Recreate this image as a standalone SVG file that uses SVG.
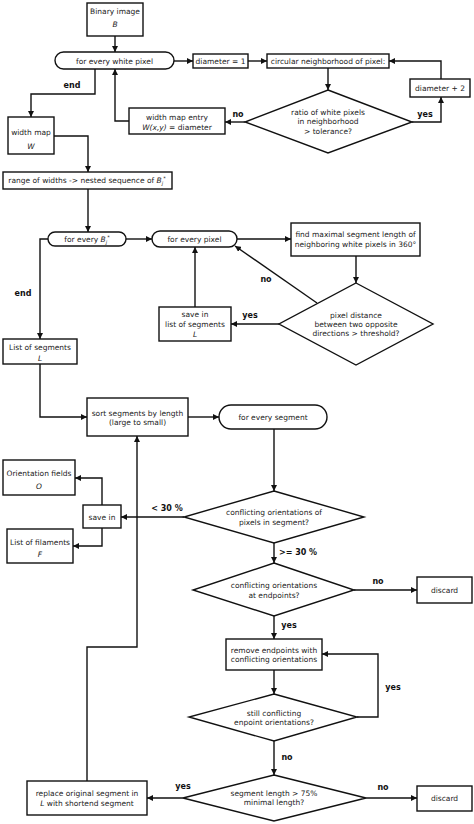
<svg xmlns="http://www.w3.org/2000/svg" width="474" height="824" viewBox="0 0 474 824">
<defs>
<marker id="ah" markerUnits="userSpaceOnUse" markerWidth="6" markerHeight="6" refX="6" refY="3" orient="auto">
<path d="M0,0 L6,3 L0,6 z" fill="#111"/>
</marker>
<style>
.n{fill:#fff;stroke:#111;stroke-width:1.4}
.t{font-family:"DejaVu Sans",sans-serif;font-size:7.5px;fill:#222;text-anchor:middle}
.i{font-style:italic}
.l{font-family:"DejaVu Sans",sans-serif;font-size:8px;font-weight:bold;fill:#111;text-anchor:middle}
.c{fill:none;stroke:#111;stroke-width:1.4;marker-end:url(#ah)}
.c0{fill:none;stroke:#111;stroke-width:1.4}
</style>
</defs>
<rect width="474" height="824" fill="#fff"/>
<g id="connectors">
<polyline class="c" points="115,36 115,52"/>
<polyline class="c" points="174,61 193,61"/>
<polyline class="c" points="248,61 267,61"/>
<polyline class="c" points="328,68 328,90"/>
<polyline class="c" points="412,122 441,122 441,97"/>
<polyline class="c" points="441,79 441,61 389,61"/>
<polyline class="c" points="245,122 225,122"/>
<polyline class="c" points="129,121 115,121 115,69"/>
<polyline class="c" points="95,69 95,94 31,94 31,117"/>
<polyline class="c" points="54,136 88,136 88,172"/>
<polyline class="c" points="88,189 88,232"/>
<polyline class="c" points="126,239 152,239"/>
<polyline class="c" points="237,239 291,239"/>
<polyline class="c" points="356,256 356,283"/>
<polyline class="c" points="317,303 235,246"/>
<polyline class="c" points="279,324 231,324"/>
<polyline class="c" points="195,307 195,247"/>
<polyline class="c" points="48,239 40,239 40,339"/>
<polyline class="c" points="40,364 40,417 87,417"/>
<polyline class="c" points="188,417 219,417"/>
<polyline class="c" points="274,429 274,491"/>
<polyline class="c" points="184,517 121,517"/>
<polyline class="c" points="102,505 102,478 75,478"/>
<polyline class="c" points="102,528 102,546 73,546"/>
<polyline class="c" points="274,543 274,563"/>
<polyline class="c" points="354,590 417,590"/>
<polyline class="c" points="274,616 274,639"/>
<polyline class="c" points="274,670 274,694"/>
<polyline class="c" points="357,717 378,717 378,654 322,654"/>
<polyline class="c" points="274,741 274,775"/>
<polyline class="c" points="183,798 147,798"/>
<polyline class="c" points="366,798 417,798"/>
<polyline class="c" points="87,781 87,647 137,647 137,436"/>
<text class="l" x="72" y="88">end</text>
<text class="l" x="425" y="117">yes</text>
<text class="l" x="238" y="117">no</text>
<text class="l" x="266" y="282">no</text>
<text class="l" x="250" y="318">yes</text>
<text class="l" x="23" y="296">end</text>
<text class="l" x="167" y="511">&lt; 30 %</text>
<text class="l" x="298" y="555">&gt;= 30 %</text>
<text class="l" x="378" y="584">no</text>
<text class="l" x="289" y="628">yes</text>
<text class="l" x="393" y="690">yes</text>
<text class="l" x="287" y="760">no</text>
<text class="l" x="183" y="789">yes</text>
<text class="l" x="383" y="790">no</text>
</g>
<g id="binary-image">
<rect class="n" x="87" y="3" width="56" height="33"/>
<text class="t" x="115" y="14">Binary image</text>
<text class="t i" x="115" y="27">B</text>
</g>
<g id="for-every-white-pixel">
<rect class="n" x="55" y="52" width="119" height="17" rx="8.5"/>
<text class="t" x="114.5" y="63.5">for every white pixel</text>
</g>
<g id="diameter-1">
<rect class="n" x="193" y="54" width="55" height="14"/>
<text class="t" x="220.5" y="63.7">diameter = 1</text>
</g>
<g id="circular">
<rect class="n" x="267" y="54" width="122" height="14"/>
<text class="t" x="328" y="63.7">circular neighborhood of pixel:</text>
</g>
<g id="ratio">
<polygon class="n" points="328,90 412,122 328,153 245,122"/>
<text class="t" x="328" y="114.5">ratio of white pixels</text>
<text class="t" x="328" y="124">in neighborhood</text>
<text class="t" x="328" y="133.5">&gt; tolerance?</text>
</g>
<g id="diameter-2">
<rect class="n" x="410" y="79" width="60" height="18"/>
<text class="t" x="440" y="90.7">diameter + 2</text>
</g>
<g id="width-map-entry">
<rect class="n" x="129" y="108" width="96" height="26"/>
<text class="t" x="177" y="119.7">width map entry</text>
<text class="t" x="177" y="129.7"><tspan class="i">W(x,y)</tspan> = diameter</text>
</g>
<g id="width-map">
<rect class="n" x="8" y="117" width="46" height="37"/>
<text class="t" x="31" y="134.7">width map</text>
<text class="t i" x="31" y="148.5">W</text>
</g>
<g id="range">
<rect class="n" x="3" y="172" width="169" height="17"/>
<text class="t" x="87" y="183.3">range of widths -&gt; nested sequence of <tspan class="i">B</tspan><tspan class="i" font-size="5" dy="2">j</tspan><tspan font-size="5" dy="-5">*</tspan></text>
</g>
<g id="for-every-bj">
<rect class="n" x="48" y="232" width="78" height="14" rx="7"/>
<text class="t" x="87" y="241.7">for every  <tspan class="i">B</tspan><tspan class="i" font-size="5" dy="2">j</tspan><tspan font-size="5" dy="-5">*</tspan></text>
</g>
<g id="for-every-pixel">
<rect class="n" x="152" y="231" width="85" height="16" rx="8"/>
<text class="t" x="194.5" y="241.7">for every pixel</text>
</g>
<g id="find-maximal">
<rect class="n" x="291" y="223" width="129" height="33"/>
<text class="t" x="355.5" y="236.7">find maximal segment length of</text>
<text class="t" x="355.5" y="246.7">neighboring white pixels in 360°</text>
</g>
<g id="pixel-distance">
<polygon class="n" points="356,283 433,324 356,365 279,324"/>
<text class="t" x="356" y="317.7">pixel distance</text>
<text class="t" x="356" y="326.7">between two opposite</text>
<text class="t" x="356" y="335.7">directions &gt; threshold?</text>
</g>
<g id="save-list-of-segments">
<rect class="n" x="159" y="307" width="72" height="34"/>
<text class="t" x="195" y="316.7">save in</text>
<text class="t" x="195" y="326.7">list of segments</text>
<text class="t i" x="195" y="336.7">L</text>
</g>
<g id="list-of-segments">
<rect class="n" x="3" y="339" width="74" height="25"/>
<text class="t" x="40" y="349.7">List of segments</text>
<text class="t i" x="40" y="360.7">L</text>
</g>
<g id="sort">
<rect class="n" x="87" y="398" width="101" height="38"/>
<text class="t" x="137.5" y="415.7">sort segments by length</text>
<text class="t" x="137.5" y="424.7">(large to small)</text>
</g>
<g id="for-every-segment">
<rect class="n" x="219" y="405" width="108" height="24" rx="12"/>
<text class="t" x="273" y="419.7">for every segment</text>
</g>
<g id="conflicting-pixels">
<polygon class="n" points="274,491 364,517 274,543 184,517"/>
<text class="t" x="274" y="514.7">conflicting orientations of</text>
<text class="t" x="274" y="524.7">pixels in segment?</text>
</g>
<g id="save-in">
<rect class="n" x="83" y="505" width="38" height="23"/>
<text class="t" x="102" y="519.7">save in</text>
</g>
<g id="orientation-fields">
<rect class="n" x="3" y="460" width="72" height="35"/>
<text class="t" x="39" y="475.7">Orientation fields</text>
<text class="t i" x="39" y="488.7">O</text>
</g>
<g id="list-of-filaments">
<rect class="n" x="7" y="529" width="66" height="34"/>
<text class="t" x="40" y="544.7">List of filaments</text>
<text class="t i" x="40" y="556.7">F</text>
</g>
<g id="conflicting-endpoints">
<polygon class="n" points="274,563 354,590 274,616 193,590"/>
<text class="t" x="274" y="587.7">conflicting orientations</text>
<text class="t" x="274" y="597.7">at endpoints?</text>
</g>
<g id="discard-1">
<rect class="n" x="417" y="577" width="55" height="26"/>
<text class="t" x="444.5" y="592.7">discard</text>
</g>
<g id="remove-endpoints">
<rect class="n" x="226" y="639" width="96" height="31"/>
<text class="t" x="274" y="652.7">remove endpoints with</text>
<text class="t" x="274" y="661.7">conflicting orientations</text>
</g>
<g id="still-conflicting">
<polygon class="n" points="274,694 357,717 274,741 189,717"/>
<text class="t" x="274" y="715.7">still conflicting</text>
<text class="t" x="274" y="724.7">enpoint orientations?</text>
</g>
<g id="segment-length">
<polygon class="n" points="274,775 366,798 274,821 183,798"/>
<text class="t" x="274" y="795.7">segment length &gt; 75%</text>
<text class="t" x="274" y="804.7">minimal length?</text>
</g>
<g id="replace">
<rect class="n" x="27" y="781" width="120" height="34"/>
<text class="t" x="87" y="795.7">replace original segment in</text>
<text class="t" x="87" y="805.7"><tspan class="i">L</tspan>  with shortend segment</text>
</g>
<g id="discard-2">
<rect class="n" x="417" y="786" width="55" height="25"/>
<text class="t" x="444.5" y="801.2">discard</text>
</g>
</svg>
